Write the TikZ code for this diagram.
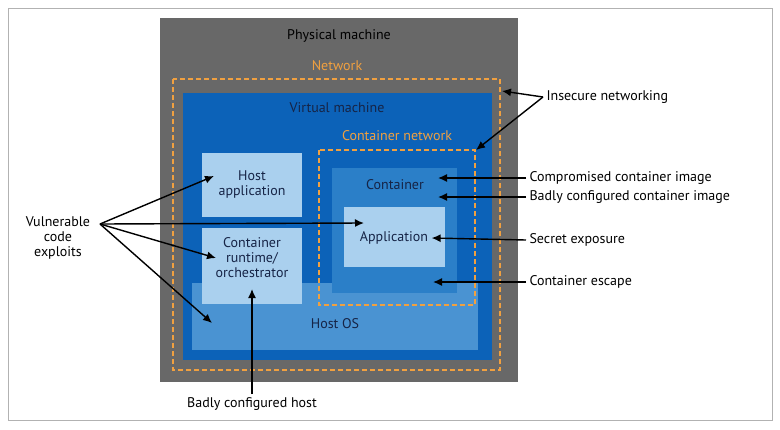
\documentclass[tikz,border=0pt]{standalone}
\usepackage{fontspec}
\setmainfont{PT Sans}
\usepackage{tikz}
\usetikzlibrary{arrows.meta, positioning}
\definecolor{physgray}{RGB}{104, 104, 104}
\definecolor{vmblue}{RGB}{12, 98, 184}
\definecolor{osblue}{RGB}{74, 147, 210}
\definecolor{ctblue}{RGB}{43, 127, 200}
\definecolor{lightbox}{RGB}{170, 208, 238}
\definecolor{navytext}{RGB}{22, 36, 70}
\definecolor{netorange}{RGB}{240, 160, 64}

\tikzset{
  boxtext/.style={text=navytext, font=\fontsize{14}{15}\selectfont, align=center},
  net/.style={draw=netorange, line width=1.6pt, dash pattern=on 5pt off 3pt},
  callout/.style={font=\fontsize{14}{15}\selectfont, text=black, align=left},
  hit/.style={-{Latex[length=9pt,width=8pt]}, line width=1.4pt}
}

\begin{document}
\begin{tikzpicture}[x=1pt, y=-1pt]
  \useasboundingbox (0,0) rectangle (780,429);
  \draw[gray!60] (8,8) rectangle (772,420);

  % machines and layers
  \fill[physgray] (160,18) rectangle (518,382);
  \node[boxtext, text=black] (phys) at (339,36) {Physical machine};
  \draw[net] (173,79) rectangle (500,370);
  \node[boxtext, text=netorange] (netlbl) at (337,66) {Network};
  \fill[vmblue] (183,93) rectangle (492,360);
  \node[boxtext] (vm) at (337,108) {Virtual machine};
  \fill[osblue] (192,283) rectangle (478,350);
  \node[boxtext] (hostos) at (335,324) {Host OS};
  \coordinate (osarrow) at (212,323);

  % container side
  \draw[net] (319,150) rectangle (475,305);
  \node[boxtext, text=netorange] (ctnet) at (397,136) {Container network};
  \fill[ctblue] (332,168) rectangle (457,293);
  \node[boxtext] (ct) at (395,185) {Container};
  \coordinate (ctimg) at (438,178);
  \coordinate (ctcfg) at (438,197);
  \coordinate (ctesc) at (433,282);
  \fill[lightbox] (344,207) rectangle (445,267);
  \node[boxtext] (app) at (394,238) {Application};

  % host side
  \fill[lightbox] (202,153) rectangle (302,217);
  \node[boxtext] (hostapp) at (252,184) {Host\\application};
  \fill[lightbox] (202,228) rectangle (302,304);
  \node[boxtext] (runtime) at (252,258) {Container\\runtime/\\orchestrator};

  % callouts
  \node[callout, align=center] (vuln) at (58,238) {Vulnerable\\code\\exploits};
  \coordinate (vulnsrc) at (100,224);
  \node[callout, anchor=west] (insec) at (543,97) {Insecure networking};
  \node[callout, anchor=west] (compimg) at (526,178) {Compromised container image};
  \node[callout, anchor=west] (badimg) at (526,197) {Badly configured container image};
  \node[callout, anchor=west] (secret) at (526,240) {Secret exposure};
  \node[callout, anchor=west] (escape) at (526,282) {Container escape};
  \node[callout] (badhost) at (252,404) {Badly configured host};

  \draw[hit] (insec.west) -- (502,91);
  \draw[hit] (insec.west) -- (476,150);
  \draw[hit] (compimg.west) -- (ctimg);
  \draw[hit] (badimg.west) -- (ctcfg);
  \draw[hit] (secret.west) -- (app.east);
  \draw[hit] (escape.west) -- (ctesc);
  \draw[hit] (vulnsrc) -- (214,176);
  \draw[hit] (vulnsrc) -- (364,223);
  \draw[hit] (vulnsrc) -- (216,258);
  \draw[hit] (vulnsrc) -- (osarrow);
  \draw[hit] (badhost.north) -- (252,289);
\end{tikzpicture}
\end{document}
